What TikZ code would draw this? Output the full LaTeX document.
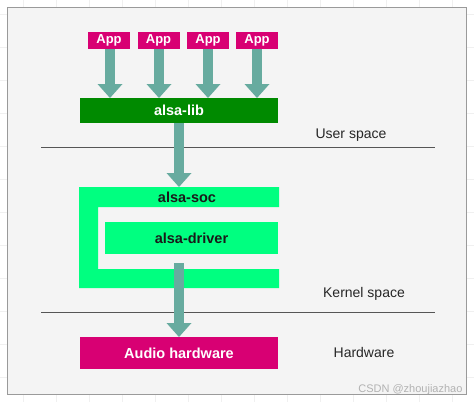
\documentclass[tikz,border=0pt]{standalone}
\usepackage{fontspec}
\setmainfont{Liberation Sans}
\usetikzlibrary{arrows.meta}
\definecolor{appmag}{HTML}{D80073}
\definecolor{libgreen}{HTML}{008A00}
\definecolor{socgreen}{HTML}{00FF80}
\definecolor{flowc}{HTML}{67AB9F}
\definecolor{framefill}{HTML}{F4F4F4}
\definecolor{framedraw}{HTML}{9A9A9A}
\definecolor{sepline}{HTML}{555555}
\tikzset{
  box/.style={rectangle, inner sep=0pt, outer sep=0pt, draw=none, font=\fontsize{14.5}{16}\selectfont\bfseries},
  appbox/.style={box, fill=appmag, text=white, minimum width=42pt, minimum height=17pt, font=\fontsize{13}{15}\selectfont\bfseries},
  libbox/.style={box, fill=libgreen, text=white, minimum width=198pt, minimum height=25pt},
  socbox/.style={box, fill=socgreen, text=black!90, minimum width=200pt, minimum height=20pt},
  drvbox/.style={box, fill=socgreen, text=black!90, minimum width=173pt, minimum height=32pt},
  hwbox/.style={box, fill=appmag, text=white, minimum width=198pt, minimum height=32pt},
  flow/.style={draw=flowc, line width=10pt, -{Triangle[width=25pt,length=14pt,line width=0pt]}},
  sep/.style={draw=sepline, line width=0.9pt},
  layer/.style={anchor=base, font=\fontsize{14}{16}\selectfont, text=black!85},
  gridline/.style={draw=black!6, line width=0.5pt},
}
\begin{document}
\begin{tikzpicture}[x=1pt,y=-1pt]
\useasboundingbox (0,0) rectangle (474,402);
\fill[white] (0,0) rectangle (474,402);
\foreach \gx in {23,56,...,473} \draw[gridline] (\gx,0) -- (\gx,402);
\foreach \gy in {14,47,...,401} \draw[gridline] (0,\gy) -- (474,\gy);
% frame
\draw[fill=framefill, draw=framedraw, line width=1pt] (7,7.5) rectangle (466.5,394);
% apps
\node[appbox] (a1) at (109,40.5) {App};
\node[appbox] (a2) at (158.5,40.5) {App};
\node[appbox] (a3) at (208,40.5) {App};
\node[appbox] (a4) at (257,40.5) {App};
% alsa-lib
\node[libbox] (lib) at (179,110.5) {alsa-lib};
% alsa-soc C shape
\fill[socgreen] (79,187) -- (279,187) -- (279,207) -- (98,207) -- (98,269) -- (279,269) -- (279,288) -- (79,288) -- cycle;
\node[socbox] (soc) at (179,197) {\hspace*{16pt}alsa-soc};
\node[drvbox] (drv) at (191.5,238) {alsa-driver};
% hardware
\node[hwbox] (hw) at (179,353) {Audio hardware};
% separators
\draw[sep] (41,147) -- (435,147);
\draw[sep] (41,312) -- (435,312);
% labels
\node[layer] (us) at (351,138) {User space};
\node[layer] (ks) at (364,297) {Kernel space};
\node[layer] (hl) at (364,357.5) {Hardware};
% arrows
\draw[flow] ([xshift=1pt]a1.south) -- ([xshift=1pt]a1.south |- lib.north);
\draw[flow] ([xshift=0.5pt]a2.south) -- ([xshift=0.5pt]a2.south |- lib.north);
\draw[flow] (a3.south) -- (a3.south |- lib.north);
\draw[flow] (a4.south) -- (a4.south |- lib.north);
\draw[flow] (lib.south) -- (soc.north);
\coordinate (drvout) at (179,263);
\draw[flow] (drvout) -- (hw.north);
% watermark
\node[anchor=base east, font=\fontsize{11}{13}\selectfont, text=black!30] (wm) at (466,392.5) {CSDN @zhoujiazhao};
\end{tikzpicture}
\end{document}
